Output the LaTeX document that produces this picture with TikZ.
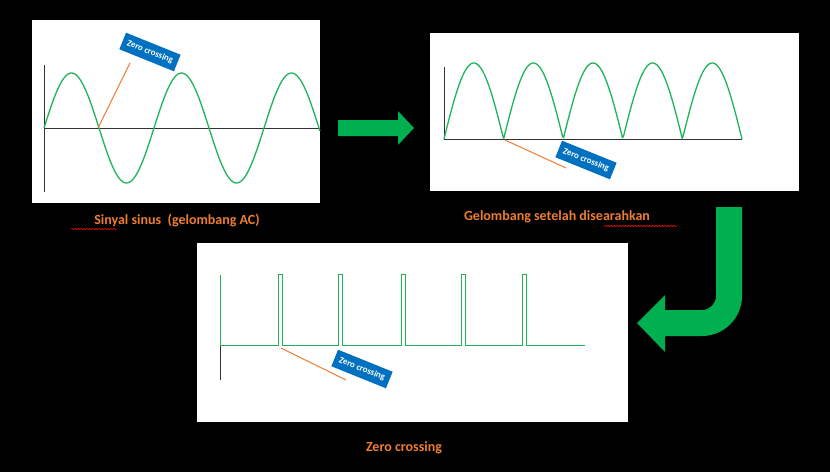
\documentclass[tikz,border=0pt]{standalone}
\usepackage{fontspec}
\setmainfont{Carlito}
\usetikzlibrary{decorations.pathmorphing}
\definecolor{wave}{RGB}{30,180,90}
\definecolor{arr}{RGB}{0,176,80}
\definecolor{boxblue}{RGB}{0,112,192}
\definecolor{org}{RGB}{237,125,49}
\tikzset{
 panel/.style={fill=white,draw=none},
 axis/.style={draw=black!80,line width=0.8pt},
 wv/.style={draw=wave,line width=1.3pt},
 zc/.style={fill=boxblue,text=white,font=\bfseries\fontsize{9}{10}\selectfont,inner xsep=5pt,inner ysep=5pt,rotate=-22},
 ol/.style={draw=org,line width=1pt},
 lab/.style={text=org,font=\bfseries\fontsize{14}{16}\selectfont},
 squig/.style={draw=red,line width=0.5pt,decorate,decoration={snake,amplitude=0.8pt,segment length=3pt}}
}
\begin{document}
\begin{tikzpicture}[x=1pt,y=-1pt]
\fill[black] (0,0) rectangle (830,472);
\useasboundingbox (0,0) rectangle (830,472);
% panel 1
\node[panel,minimum width=288,minimum height=183,anchor=north west,inner sep=0] (p1) at (32,20) {};
\draw[axis] (44,65) -- (44,192);
\draw[axis] (44,128) -- (320,128);
\draw[wv] plot[domain=44:320,samples=200] (\x,{128-55*sin((\x-44)/110*360)});
\node[zc] (z1) at (150,52) {Zero crossing};
\coordinate (c1) at (98,128);
\coordinate (s1) at (130,63);
\draw[ol] (s1) -- (c1);
% panel 2
\node[panel,minimum width=369,minimum height=158,anchor=north west,inner sep=0] (p2) at (430,33) {};
\draw[axis] (444,67) -- (444,140);
\draw[axis] (444,139) -- (742,139);
\draw[wv] plot[domain=444:742,samples=300] (\x,{139-76*abs(sin((\x-444)/59.6*180))});
\coordinate (c2) at (505,140);
\coordinate (s2) at (566,168);
\draw[ol] (s2) -- (c2);
\node[zc] (z2) at (586,160) {Zero crossing};
% panel 3
\node[panel,minimum width=431,minimum height=179,anchor=north west,inner sep=0] (p3) at (197,243) {};
\draw[axis] (220,275) -- (220,380);
\draw[wv,line width=1pt] (220,345) -- (278,345) -- (278,274) -- (282,274) -- (282,345)
 -- (338,345) -- (338,274) -- (342,274) -- (342,345)
 -- (401,345) -- (401,274) -- (405,274) -- (405,345)
 -- (461,345) -- (461,274) -- (465,274) -- (465,345)
 -- (522,345) -- (522,274) -- (526,274) -- (526,345) -- (585,345);
\draw[wave,line width=1pt] (220,275) -- (220,345);
\coordinate (c3) at (281,348);
\coordinate (s3) at (346,380);
\draw[ol] (s3) -- (c3);
\node[zc] (z3) at (362,369) {Zero crossing};
% labels
\node[lab] (l1) at (177,220) {Sinyal sinus\ \ (gelombang AC)};
\node[lab] (l2) at (557,217) {Gelombang setelah disearahkan};
\node[lab] (l3) at (404,448) {Zero crossing};
\draw[squig] (71,229) -- (117,229);
\draw[squig] (604,226) -- (677,226);
% arrows
\fill[arr] (338,120) -- (398,120) -- (398,111) -- (414,128) -- (398,145) -- (398,136) -- (338,136) -- cycle;
\fill[arr] (716,207) -- (742,207) -- (742,296) arc[start angle=0,end angle=90,radius=40] -- (665,336) -- (665,352) -- (637,323) -- (665,295) -- (665,310) -- (702,310) arc[start angle=90,end angle=0,radius=14] -- cycle;
\end{tikzpicture}
\end{document}
